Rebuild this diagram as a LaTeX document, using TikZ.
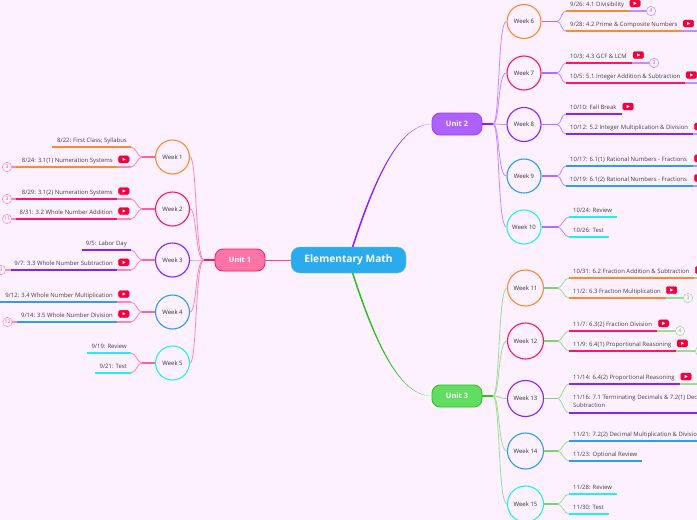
\documentclass[tikz,border=0pt]{standalone}
\usepackage{fontspec}
\setmainfont{Open Sans}
\definecolor{pagebg}{HTML}{FDF0FF}
\definecolor{rootblue}{HTML}{29ABEE}
\definecolor{cOrange}{HTML}{FF8A2E}
\definecolor{cCrimson}{HTML}{FF1466}
\definecolor{cPurple}{HTML}{8A1FFF}
\definecolor{cBlue}{HTML}{2A9DF4}
\definecolor{cCyan}{HTML}{1FF0F5}
\definecolor{cGreen}{HTML}{2FBF1C}
\definecolor{cPlay}{HTML}{F5003D}
\definecolor{twigPink}{HTML}{FF85B2}
\definecolor{twigPurple}{HTML}{C08CFF}
\definecolor{twigGreen}{HTML}{9BDE8F}
\tikzset{
  rootbox/.style={draw=rootblue!70!white,fill=rootblue,rounded corners=9pt,minimum width=115pt,minimum height=26pt,
    inner sep=0pt,text=white,font=\fontsize{10.2}{12}\selectfont\bfseries},
  unitbox/.style={rounded corners=8pt,minimum width=50pt,minimum height=22pt,inner sep=0pt,line width=.8pt,
    text=white,font=\fontsize{7.4}{9}\selectfont\bfseries},
  week/.style={circle,minimum size=34pt,inner sep=0pt,line width=1.1pt,text=black!80,font=\fontsize{6}{7}\selectfont},
  taskrm/.style={inner sep=0pt,text height=4.6pt,text depth=1.3pt,text=black!75,font=\fontsize{5.95}{8}\selectfont},
  playbox/.style={fill=cPlay,draw=cPlay,rounded corners=1.5pt,minimum width=10.5pt,minimum height=7pt,inner sep=0pt},
  badge/.style={circle,draw=twig,line width=.5pt,minimum size=9.4pt,inner sep=0pt,text=twig!80!black,font=\fontsize{5}{5}\selectfont},
  fan/.style={draw=twig,line width=.8pt},
  stub/.style={draw=twig!70!stubdark,line width=1.1pt},
  rule/.style={line width=1.5pt}
}
% task on the right of a fork: name, fork, start x, y, coloured end x, colour, text
\newcommand{\rtask}[7]{
  \coordinate (#1s) at (#3,#4);
  \coordinate (#1e) at (#5,#4);
  \draw[fan] (#2) .. controls +(4.5,0) and +(-5,0) .. (#1s);
  \draw[rule,draw=#6] (#1s) -- (#1e);
  \node[taskrm,anchor=west] (#1) at ({#3+4},{#4-6.3}) {#7};
}
% task on the left of a fork: name, fork, y, outer x, coloured end x, colour, text
\newcommand{\ltask}[7]{
  \coordinate (#1s) at (131,#3);
  \coordinate (#1e) at (#5,#3);
  \coordinate (#1o) at (#4,#3);
  \draw[fan] (#2) .. controls +(-4.5,0) and +(5,0) .. (#1s);
  \draw[rule,draw=twig] (#1s) -- (#1e);
  \draw[rule,draw=#6] (#1e) -- (#1o);
  \node[taskrm,anchor=east] (#1) at ({#5-4},{#3-6.1}) {#7};
}
\newcommand{\playicon}[3]{
  \node[playbox] (#1p) at (#2,#3) {};
  \fill[white,shift={(#1p.center)}] (-1.3,-1.6) -- (1.7,0) -- (-1.3,1.6) -- cycle;
}
\begin{document}
\begin{tikzpicture}[x=1pt,y=-1pt]
\useasboundingbox (0,0) rectangle (697,520);
\clip (0,0) rectangle (697,520);
\fill[pagebg] (0,0) rectangle (697,520);

% main nodes
\node[rootbox] (root) at (348.5,260) {Elementary Math};
\node[unitbox,draw=cCrimson,fill=twigPink!85!cCrimson] (unit1) at (240,260) {Unit 1};
\node[unitbox,draw=cPurple!85!white,fill=cPurple!70!white] (unit2) at (457,124) {Unit 2};
\node[unitbox,draw=cGreen,fill=green!65!gray!75!white] (unit3) at (457,396) {Unit 3};

\draw[line width=.9pt,cCrimson!80!white] (root.west) -- (unit1.east);
\fill[cPurple] ([xshift=3.4pt]root.north) .. controls (375,175) and (400,124) .. (unit2.west)
  .. controls (400,124.4) and (376.5,176) .. ([xshift=5pt]root.north) -- cycle;
\fill[cGreen] ([xshift=3.4pt]root.south) .. controls (375,345) and (400,396) .. (unit3.west)
  .. controls (400,395.6) and (376.5,344) .. ([xshift=5pt]root.south) -- cycle;

% Unit 1
\begin{scope}
\colorlet{twig}{twigPink}
\colorlet{stubdark}{cCrimson}
\node[week,draw=cOrange] (w1) at (172.5,157) {Week 1};
\node[week,draw=cCrimson] (w2) at (172.5,209) {Week 2};
\node[week,draw=cPurple] (w3) at (172.5,260) {Week 3};
\node[week,draw=cBlue] (w4) at (172.5,312) {Week 4};
\node[week,draw=cCyan] (w5) at (172.5,363) {Week 5};
\coordinate (u1f) at (204,260);
\draw[line width=1.2pt,cCrimson] (unit1.west) -- (u1f);
\foreach \w in {w1,w2,w3,w4,w5}
  \draw[fan] (u1f) .. controls +(-9,0) and +(7,0) .. (\w.east);
\coordinate (f1) at (142,157);
\coordinate (f2) at (142,209);
\coordinate (f3) at (142,260);
\coordinate (f4) at (142,312);
\coordinate (f5) at (142,363);
\foreach \i in {1,...,5}
  \draw[stub] (w\i.west) -- (f\i);

\ltask{t1a}{f1}{147}{52}{131}{cOrange}{8/22: First Class; Syllabus}
\ltask{t1b}{f1}{167}{16}{117}{cOrange}{8/24: 3.1(1) Numeration Systems}
\playicon{t1b}{123.8}{159.4}
\node[badge] (t1bb) at (7,167) {3};
\draw[rule,draw=twig] (t1bb) -- (t1bo);

\ltask{t2a}{f2}{199}{16}{117}{cCrimson}{8/29: 3.1(2) Numeration Systems}
\playicon{t2a}{123.8}{191}
\node[badge] (t2ab) at (7,199) {3};
\draw[rule,draw=twig] (t2ab) -- (t2ao);
\ltask{t2b}{f2}{219}{16}{117}{cCrimson}{8/31: 3.2 Whole Number Addition}
\playicon{t2b}{123.8}{211}
\node[badge] (t2bb) at (7,219) {11};
\draw[rule,draw=twig] (t2bb) -- (t2bo);

\ltask{t3a}{f3}{250}{81.7}{131}{cPurple}{9/5: Labor Day}
\ltask{t3b}{f3}{270}{11}{117}{cPurple}{9/7: 3.3 Whole Number Subtraction}
\playicon{t3b}{123.8}{262.3}
\node[badge] (t3bb) at (1,270) {3};
\draw[rule,draw=twig] (t3bb) -- (t3bo);

\ltask{t4a}{f4}{302}{-2}{117}{cBlue}{9/12: 3.4 Whole Number Multiplication}
\playicon{t4a}{123.8}{294}
\ltask{t4b}{f4}{322}{17}{117}{cBlue}{9/14: 3.5 Whole Number Division}
\playicon{t4b}{123.8}{313.8}
\node[badge] (t4bb) at (7.5,322) {12};
\draw[rule,draw=twig] (t4bb) -- (t4bo);

\ltask{t5a}{f5}{353}{87}{131}{cCyan}{9/19: Review}
\ltask{t5b}{f5}{373}{95}{131}{cCyan}{9/21: Test}
\end{scope}

% Unit 2
\begin{scope}
\colorlet{twig}{twigPurple}
\colorlet{stubdark}{cPurple}
\node[week,draw=cOrange] (w6) at (524,21.5) {Week 6};
\node[week,draw=cCrimson] (w7) at (524,73) {Week 7};
\node[week,draw=cPurple] (w8) at (524,124.5) {Week 8};
\node[week,draw=cBlue] (w9) at (524,176) {Week 9};
\node[week,draw=cCyan] (w10) at (524,227) {Week 10};
\coordinate (u2f) at (493,124);
\draw[line width=1.2pt,cPurple] (unit2.east) -- (u2f);
\foreach \w in {w6,w7,w8,w9,w10}
  \draw[fan] (u2f) .. controls +(7,0) and +(-9,0) .. (\w.west);
\coordinate (f6) at (557,21.5);
\coordinate (f7) at (557,73);
\coordinate (f8) at (557,124.5);
\coordinate (f9) at (557,176);
\coordinate (f10) at (557.5,227);
\foreach \i in {6,...,10}
  \draw[stub] (w\i.east) -- (f\i);

\rtask{t6a}{f6}{566}{11}{629}{cOrange}{9/26: 4.1 Divisibility}
\playicon{t6a}{635}{3.3}
\node[badge] (t6ab) at (651,11) {4};
\draw[rule,draw=twig] (t6ae) -- (t6ab);
\rtask{t6b}{f6}{566}{31}{682}{cOrange}{9/28: 4.2 Prime \& Composite Numbers}
\playicon{t6b}{688.3}{23.5}
\coordinate (t6bt) at (700,31);
\draw[rule,draw=twig] (t6be) -- (t6bt);

\rtask{t7a}{f7}{566}{63}{632}{cCrimson}{10/3: 4.3 GCF \& LCM}
\playicon{t7a}{638.3}{55}
\node[badge] (t7ab) at (654,63) {3};
\draw[rule,draw=twig] (t7ae) -- (t7ab);
\rtask{t7b}{f7}{566}{83}{685}{cCrimson}{10/5: 5.1 Integer Addition \& Subtraction}
\playicon{t7b}{691.3}{75}
\coordinate (t7bt) at (700,83);
\draw[rule,draw=twig] (t7be) -- (t7bt);

\rtask{t8a}{f8}{566}{114}{622}{cPurple}{10/10: Fall Break}
\playicon{t8a}{628}{106.5}
\rtask{t8b}{f8}{566}{134}{693}{cPurple}{10/12: 5.2 Integer Multiplication \& Division}
\playicon{t8b}{699.7}{126.5}
\coordinate (t8bt) at (700,134);
\draw[rule,draw=twig] (t8be) -- (t8bt);

\rtask{t9a}{f9}{566}{166}{693}{cBlue}{10/17: 6.1(1) Rational Numbers - Fractions}
\playicon{t9a}{699.7}{158.3}
\coordinate (t9at) at (700,166);
\draw[rule,draw=twig] (t9ae) -- (t9at);
\rtask{t9b}{f9}{566}{186}{693}{cBlue}{10/19: 6.1(2) Rational Numbers - Fractions}
\playicon{t9b}{699.7}{178}
\coordinate (t9bt) at (700,186);
\draw[rule,draw=twig] (t9be) -- (t9bt);

\rtask{t10a}{f10}{569}{217}{617}{cCyan}{10/24: Review}
\rtask{t10b}{f10}{569}{237}{609}{cCyan}{10/26: Test}
\end{scope}

% Unit 3
\begin{scope}
\colorlet{twig}{twigGreen}
\colorlet{stubdark}{cGreen}
\node[week,draw=cOrange,minimum size=36pt] (w11) at (525.5,288) {Week 11};
\node[week,draw=cCrimson,minimum size=36pt] (w12) at (525.5,341) {Week 12};
\node[week,draw=cPurple,minimum size=36pt] (w13) at (525.5,398.5) {Week 13};
\node[week,draw=cBlue,minimum size=36pt] (w14) at (525.5,451) {Week 14};
\node[week,draw=cCyan,minimum size=36pt] (w15) at (525.5,504) {Week 15};
\coordinate (u3f) at (493,396);
\draw[line width=1.2pt,cGreen] (unit3.east) -- (u3f);
\foreach \w in {w11,w12,w13,w14,w15}
  \draw[fan] (u3f) .. controls +(7,0) and +(-9,0) .. (\w.west);
\coordinate (f11) at (557.5,288);
\coordinate (f12) at (557.5,341);
\coordinate (f13) at (557.5,398.5);
\coordinate (f14) at (557.5,451);
\coordinate (f15) at (557.5,504);
\foreach \i in {11,...,15}
  \draw[stub] (w\i.east) -- (f\i);

\rtask{t11a}{f11}{569}{278}{694}{cOrange}{10/31: 6.2 Fraction Addition \& Subtraction}
\playicon{t11a}{700.5}{270}
\coordinate (t11at) at (700,278);
\draw[rule,draw=twig] (t11ae) -- (t11at);
\rtask{t11b}{f11}{569}{298}{665.6}{cOrange}{11/2: 6.3 Fraction Multiplication}
\playicon{t11b}{671.5}{290}
\node[badge] (t11bb) at (688,298) {3};
\draw[rule,draw=twig] (t11be) -- (t11bb);

\rtask{t12a}{f12}{569}{331}{657}{cCrimson}{11/7: 6.3(2) Fraction Division}
\playicon{t12a}{663.5}{323.3}
\node[badge] (t12ab) at (680,331) {4};
\draw[rule,draw=twig] (t12ae) -- (t12ab);
\rtask{t12b}{f12}{569}{351}{676}{cCrimson}{11/9: 6.4(1) Proportional Reasoning}
\playicon{t12b}{682.3}{343.3}
\node[badge] (t12bb) at (700,351) {};
\draw[rule,draw=twig] (t12be) -- (t12bb);

\rtask{t13a}{f13}{569}{384}{680}{cPurple}{11/14: 6.4(2) Proportional Reasoning}
\playicon{t13a}{686}{376.5}
\coordinate (t13at) at (700,384);
\draw[rule,draw=twig] (t13ae) -- (t13at);
\rtask{t13b}{f13}{569}{413}{700}{cPurple}{}
\node[taskrm,anchor=west] (t13bl) at (573,397.4) {11/16: 7.1 Terminating Decimals \& 7.2(1) Decimal};
\node[taskrm,anchor=west] (t13bm) at (573,405.4) {Subtraction};

\rtask{t14a}{f14}{569}{441}{700}{cBlue}{11/21: 7.2(2) Decimal Multiplication \& Division}
\rtask{t14b}{f14}{569}{461}{642}{cBlue}{11/23: Optional Review}

\rtask{t15a}{f15}{569}{494}{617}{cCyan}{11/28: Review}
\rtask{t15b}{f15}{569}{514}{609}{cCyan}{11/30: Test}
\end{scope}
\end{tikzpicture}
\end{document}
